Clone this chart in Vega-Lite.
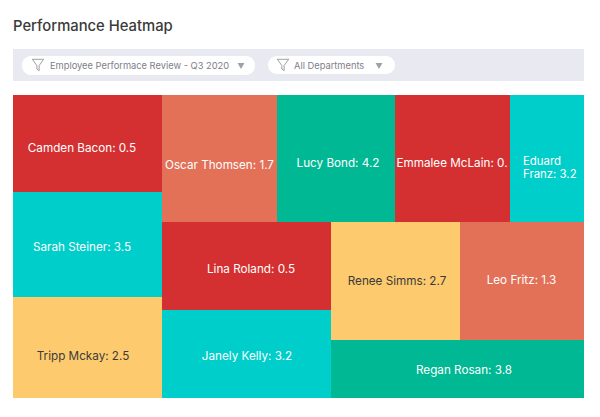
{
  "$schema": "https://vega.github.io/schema/vega-lite/v6.json",
  "autosize": {"type": "none"},
  "width": 571,
  "height": 303,
  "padding": {"left": 13, "top": 95, "right": 16, "bottom": 19},
  "background": "white",
  "view": {"stroke": null},
  "title": {"text": "Performance Heatmap", "anchor": "start", "frame": "group", "font": "Inter", "fontSize": 14.8, "fontWeight": 500, "color": "#3a3a3a", "offset": 15},
  "datasets": {
    "cells": [
      {"name": "Camden Bacon", "score": 0.5, "label": "Camden Bacon: 0.5", "x0": 0, "x1": 149, "y0": 0, "y1": 97, "lx": 69, "ly": 52},
      {"name": "Sarah Steiner", "score": 3.5, "label": "Sarah Steiner: 3.5", "x0": 0, "x1": 149, "y0": 97, "y1": 202, "lx": 69, "ly": 151},
      {"name": "Tripp Mckay", "score": 2.5, "label": "Tripp Mckay: 2.5", "x0": 0, "x1": 149, "y0": 202, "y1": 303, "lx": 70, "ly": 260},
      {"name": "Oscar Thomsen", "score": 1.7, "label": "Oscar Thomsen: 1.7", "x0": 149, "x1": 264, "y0": 0, "y1": 127, "lx": 206.5, "ly": 69},
      {"name": "Lucy Bond", "score": 4.2, "label": "Lucy Bond: 4.2", "x0": 264, "x1": 382, "y0": 0, "y1": 127, "lx": 325, "ly": 67},
      {"name": "Emmalee McLain", "score": 0.5, "label": "Emmalee McLain: 0.", "x0": 382, "x1": 497, "y0": 0, "y1": 127, "lx": 439, "ly": 67},
      {"name": "Lina Roland", "score": 0.5, "label": "Lina Roland: 0.5", "x0": 149, "x1": 318, "y0": 127, "y1": 215, "lx": 238, "ly": 173},
      {"name": "Janely Kelly", "score": 3.2, "label": "Janely Kelly: 3.2", "x0": 149, "x1": 318, "y0": 215, "y1": 303, "lx": 234, "ly": 260},
      {"name": "Renee Simms", "score": 2.7, "label": "Renee Simms: 2.7", "x0": 318, "x1": 447, "y0": 127, "y1": 245, "lx": 384, "ly": 185},
      {"name": "Leo Fritz", "score": 1.3, "label": "Leo Fritz: 1.3", "x0": 447, "x1": 571, "y0": 127, "y1": 245, "lx": 508.5, "ly": 184},
      {"name": "Regan Rosan", "score": 3.8, "label": "Regan Rosan: 3.8", "x0": 318, "x1": 571, "y0": 245, "y1": 303, "lx": 451, "ly": 273.5},
      {"name": "Eduard Franz", "score": 3.2, "label": "", "x0": 497, "x1": 571, "y0": 0, "y1": 127}
    ],
    "wrapped": [
      {"label": "Eduard\nFranz: 3.2", "score": 3.2, "lx": 510, "ly": 66.5}
    ],
    "bar": [
      {"x0": 0, "x1": 571, "y0": -46, "y1": -14}
    ],
    "pills": [
      {"filter": "Employee Performace Review - Q3 2020", "x0": 9, "x1": 242, "y0": -39, "y1": -20, "icon": 25, "tx": 37, "arrow": 228},
      {"filter": "All Departments", "x0": 255, "x1": 382, "y0": -39, "y1": -21, "icon": 270, "tx": 281, "arrow": 366}
    ]
  },
  "layer": [
    {
      "data": {"name": "bar"},
      "mark": {"type": "rect", "fill": "#e9e9f1"},
      "encoding": {
        "x": {"field": "x0", "type": "quantitative", "scale": {"domain": [0, 571], "nice": false, "zero": false}, "axis": null},
        "x2": {"field": "x1"},
        "y": {"field": "y0", "type": "quantitative", "scale": {"domain": [0, 303], "reverse": true, "nice": false, "zero": false}, "axis": null},
        "y2": {"field": "y1"}
      }
    },
    {
      "data": {"name": "pills"},
      "mark": {"type": "rect", "fill": "white", "cornerRadius": 9},
      "encoding": {
        "x": {"field": "x0", "type": "quantitative", "axis": null},
        "x2": {"field": "x1"},
        "y": {"field": "y0", "type": "quantitative", "axis": null},
        "y2": {"field": "y1"}
      }
    },
    {
      "data": {"name": "pills"},
      "mark": {"type": "text", "align": "left", "baseline": "middle", "font": "Inter", "fontSize": 9.3, "color": "#808088"},
      "encoding": {
        "x": {"field": "tx", "type": "quantitative", "axis": null},
        "y": {"field": "y0", "type": "quantitative", "axis": null},
        "yOffset": {"value": 10},
        "text": {"field": "filter", "type": "nominal"}
      }
    },
    {
      "data": {"name": "pills"},
      "mark": {"type": "point", "shape": "M-1,-1L1,-1L0.2,0.1L0.2,1L-0.2,0.7L-0.2,0.1Z", "size": 130, "filled": false, "stroke": "#555555", "strokeWidth": 0.8},
      "encoding": {
        "x": {"field": "icon", "type": "quantitative", "axis": null},
        "y": {"field": "y0", "type": "quantitative", "axis": null},
        "yOffset": {"value": 9}
      }
    },
    {
      "data": {"name": "pills"},
      "mark": {"type": "point", "shape": "triangle-down", "size": 48, "filled": true, "fill": "#a0a0a8", "opacity": 1},
      "encoding": {
        "x": {"field": "arrow", "type": "quantitative", "axis": null},
        "y": {"field": "y0", "type": "quantitative", "axis": null},
        "yOffset": {"value": 10}
      }
    },
    {
      "data": {"name": "cells"},
      "mark": {"type": "rect"},
      "encoding": {
        "x": {"field": "x0", "type": "quantitative", "axis": null},
        "x2": {"field": "x1"},
        "y": {"field": "y0", "type": "quantitative", "axis": null},
        "y2": {"field": "y1"},
        "color": {"field": "score", "type": "quantitative", "legend": null,
          "scale": {"type": "threshold", "domain": [1, 2, 3, 3.7], "range": ["#d53031", "#e27158", "#fdcb6e", "#00ceca", "#00b894"]}}
      }
    },
    {
      "data": {"name": "cells"},
      "mark": {"type": "text", "align": "center", "baseline": "middle", "dy": 1, "font": "Inter", "fontSize": 11.7, "fontWeight": 400},
      "encoding": {
        "x": {"field": "lx", "type": "quantitative", "axis": null},
        "y": {"field": "ly", "type": "quantitative", "axis": null},
        "text": {"field": "label", "type": "nominal"},
        "color": {"condition": {"test": "datum.score >= 2 && datum.score < 3", "value": "#3a3a3a"}, "value": "white"}
      }
    },
    {
      "data": {"name": "wrapped"},
      "mark": {"type": "text", "align": "left", "baseline": "middle", "font": "Inter", "fontSize": 11.4, "fontWeight": 400, "lineBreak": "\n", "lineHeight": 13.5, "color": "white"},
      "encoding": {
        "x": {"field": "lx", "type": "quantitative", "axis": null},
        "y": {"field": "ly", "type": "quantitative", "axis": null},
        "text": {"field": "label", "type": "nominal"}
      }
    }
  ]
}
